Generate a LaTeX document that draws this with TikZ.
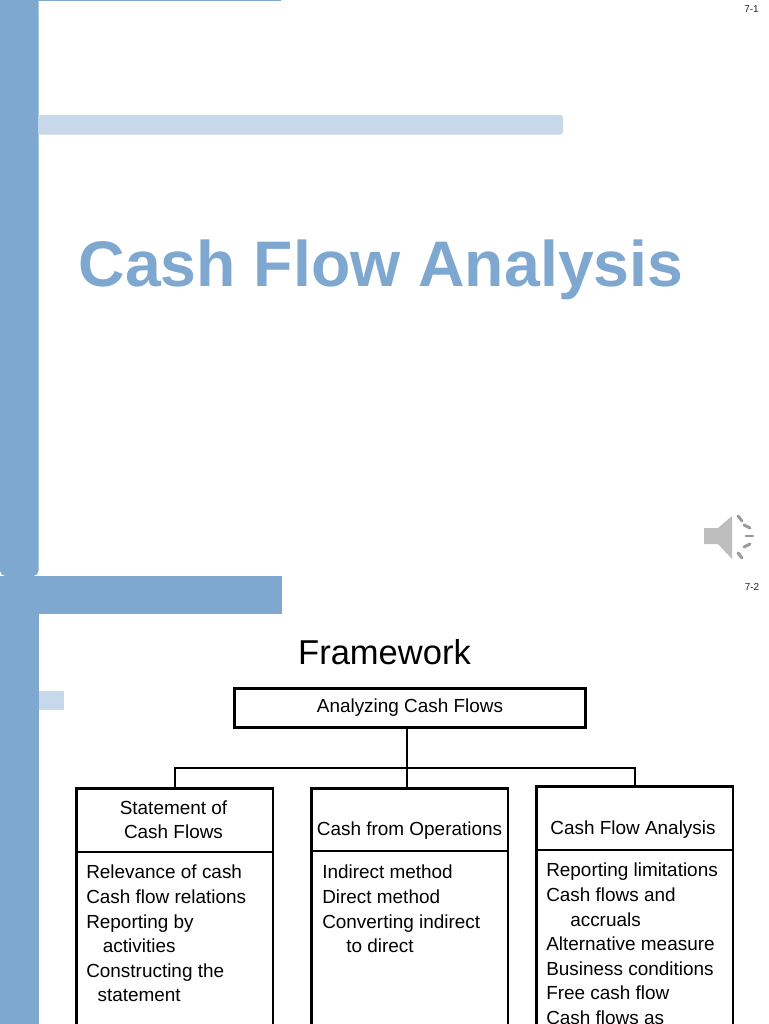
\documentclass[tikz,border=0pt]{standalone}
\usepackage{fontspec}
\setmainfont{Liberation Sans}
\newfontfamily\scanfont{Open Sans Light}[Scale=1]
\definecolor{barblue}{HTML}{7FA8D0}
\definecolor{barlight}{HTML}{C7D8EB}
\definecolor{iconfill}{HTML}{BDBDBD}
\definecolor{icondark}{HTML}{9A9A9A}
\tikzset{
  x=0.75pt,y=-0.75pt,
  bar/.style={fill=barblue,draw=none},
  lightbar/.style={fill=barlight,draw=none},
  rootbox/.style={draw=black,line width=2pt,minimum width=263pt,minimum height=29.5pt,inner sep=0pt,font=\fontsize{14.2}{17}\selectfont},
  frame/.style={draw=black,line width=2pt,minimum width=147.5pt,minimum height=200pt,inner sep=0pt,anchor=north west},
  headtext/.style={align=center,font=\fontsize{14.2}{18.4}\selectfont,inner sep=0pt},
  bodytext/.style={align=left,anchor=north west,inner sep=0pt,font=\fontsize{14.2}{18.45}\selectfont},
  sep/.style={draw=black,line width=1.4pt},
  conn/.style={draw=black,line width=1.6pt},
  trunk/.style={draw=black,line width=2.2pt},
  pagenum/.style={font=\fontsize{7.5}{9}\selectfont,inner sep=0pt,text=black!85},
  wave/.style={draw=icondark,line width=2.2pt,line cap=round}
}
\begin{document}
\begin{tikzpicture}
\clip (0,0) rectangle (768,1024);
\fill[white] (0,0) rectangle (768,1024);
% slide 1
\fill[bar,rounded corners=4pt] (0,-10) rectangle (38.5,576);
\fill[bar] (38,0) rectangle (281,1.3);
\fill[lightbar,rounded corners=2pt] (38,115) rectangle (563,134.5);
\node[inner sep=0pt,text=barblue,font=\fontsize{48.3}{58}\selectfont\bfseries] (title) at (381,270) {Cash Flow Analysis};
\node[pagenum] (p1) at (751.5,9.5) {7-1};
% speaker icon
\fill[iconfill] (704,528) -- (718,528) -- (732,516) -- (732,559) -- (718,544) -- (704,544) -- cycle;
\draw[wave] (738,516) -- (742,521);
\draw[wave] (744,525) -- (750,528);
\draw[wave] (746,536) -- (753,536);
\draw[wave] (744,547) -- (750,544);
\draw[wave] (738,553) -- (742,558);
% slide 2
\fill[bar] (0,576) rectangle (38.5,1024);
\fill[bar] (38,576) rectangle (281.5,614);
\fill[lightbar] (38.5,691) rectangle (64,710);
\node[pagenum] (p2) at (752,587.5) {7-2};
\node[inner sep=0pt,font=\fontsize{25.9}{31}\selectfont] (fw) at (384.5,652) {Framework};
% boxes
\node[rootbox] (root) at (410,708) {Analyzing Cash Flows};
\node[frame] (fa) at (75,787) {};
\node[frame] (fb) at (310,787) {};
\node[frame] (fc) at (535,785) {};
\draw[sep] (fa.north west |- 0,852) coordinate (sa) -- (fa.north east |- 0,852);
\draw[sep] (fb.north west |- 0,851) -- (fb.north east |- 0,851);
\draw[sep] (fc.north west |- 0,850) -- (fc.north east |- 0,850);
% connectors
\coordinate (busa) at (fa.north |- 0,768);
\coordinate (busc) at (fc.north |- 0,768);
\coordinate (busm) at (root.south |- 0,768);
\draw[trunk] (root.south -| 407,0) -- (fb.north -| 407,0);
\draw[conn] (fa.north) -- (busa) -- (busc) -- (fc.north);
% texts
\node[headtext] (ha) at (173.5,819.5) {Statement of\\Cash Flows};
\node[headtext] (hb) at (409.5,831) {Cash from Operations};
\node[headtext] (hc) at (633,829.5) {Cash Flow Analysis};
\node[bodytext] (ba) at (86,865) {Relevance of cash\\Cash flow relations\\Reporting by\\\hspace*{18pt}\vphantom{Ag}\hspace{-5.5pt}activities\\Constructing the\\\hspace*{8.5pt}statement};
\node[bodytext] (bb) at (322,865) {Indirect method\\Direct method\\Converting indirect\\\hspace*{18pt}to direct};
\node[bodytext] (bc) at (546,863) {Reporting limitations\\Cash flows and\\\hspace*{18pt}accruals\\Alternative measure\\Business conditions\\Free cash flow\\Cash flows as};
\end{tikzpicture}
\end{document}
